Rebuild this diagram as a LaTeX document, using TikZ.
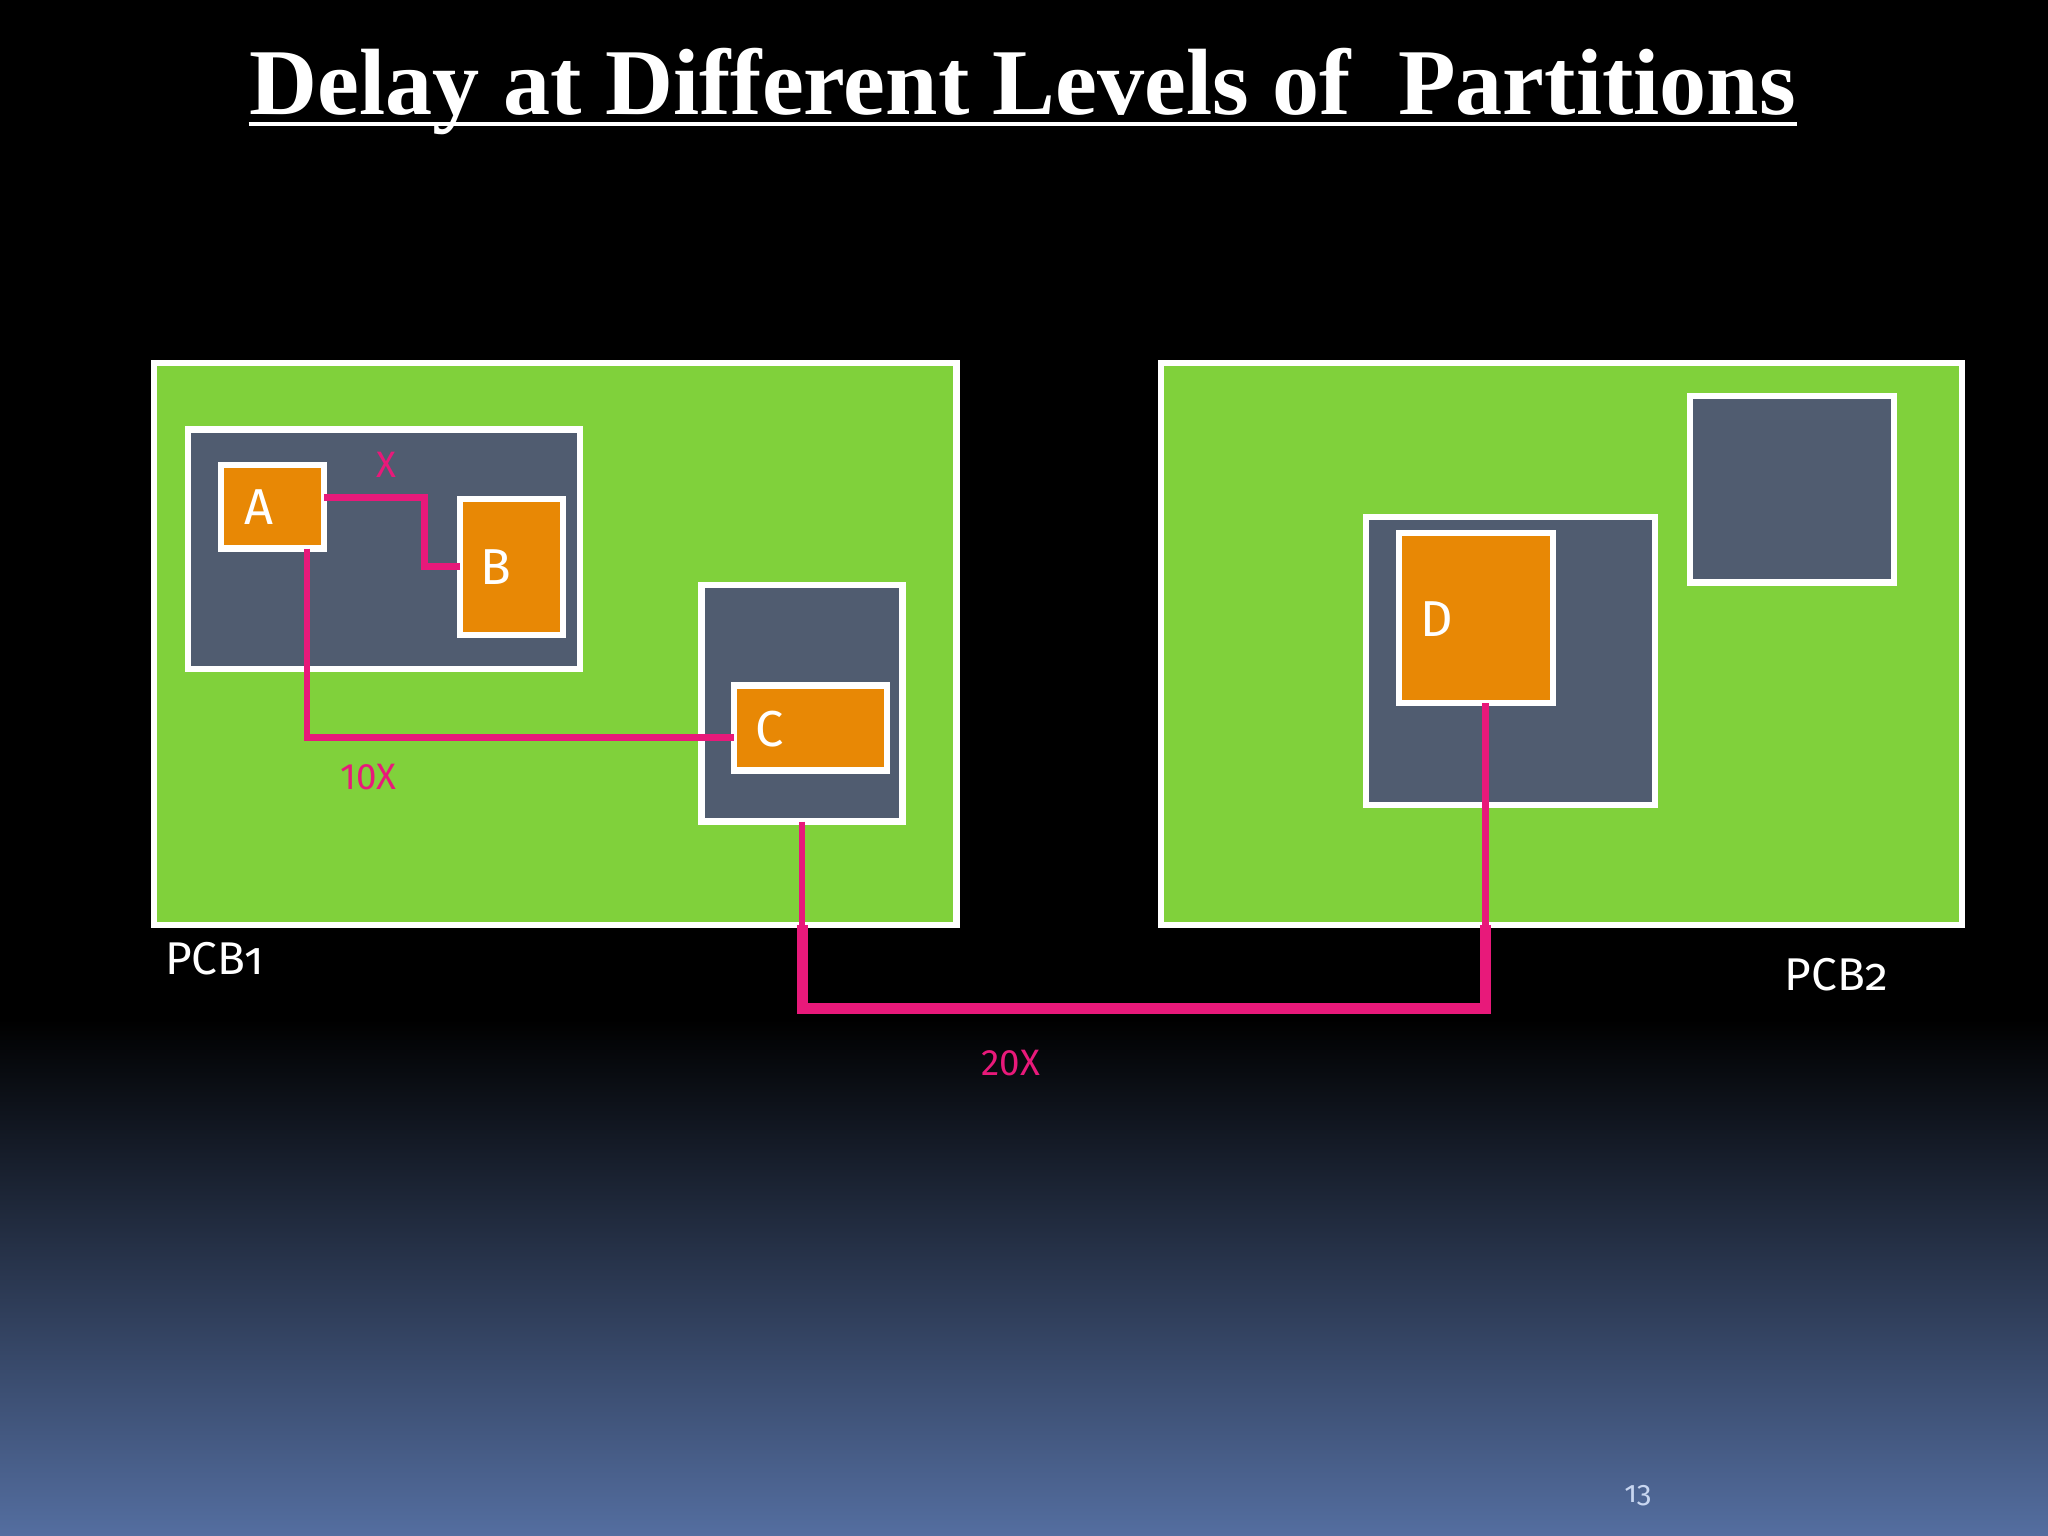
\documentclass[tikz,border=0pt]{standalone}
\usepackage{fontspec}
\setmainfont{Liberation Serif}
\newfontfamily\labelfont{Fira Sans}
\newfontfamily\oldnumfont[Numbers=OldStyle]{Fira Sans}
\usepackage{xcolor}
\usetikzlibrary{calc}

\definecolor{boardgreen}{HTML}{80D13B}
\definecolor{blockgray}{HTML}{505C70}
\definecolor{chiporange}{HTML}{E88805}
\definecolor{wirepink}{HTML}{E8197A}
\definecolor{slidebottom}{HTML}{546EA0}
\definecolor{pagenum}{HTML}{C8D6F0}

\begin{document}
\begin{tikzpicture}[x=0.01cm, y=-0.01cm,
  board/.style={draw=white, line width=1.4pt, fill=boardgreen, anchor=north west, inner sep=0pt, outer sep=0pt},
  block/.style={draw=white, line width=1.4pt, fill=blockgray, anchor=north west, inner sep=0pt, outer sep=0pt},
  chip/.style={draw=white, line width=1.4pt, fill=chiporange, anchor=north west, inner sep=0pt, outer sep=0pt},
  chiplbl/.style={text=white, font=\labelfont\fontsize{11}{13}\selectfont},
  pcblbl/.style={text=white, font=\oldnumfont\fontsize{10}{12}\selectfont},
  wire/.style={draw=wirepink, line width=1.5pt},
  bus/.style={draw=wirepink, line width=2.4pt},
  wirelbl/.style={text=wirepink, font=\labelfont\fontsize{8}{10}\selectfont}]

% slide background
\fill[black] (0,0) rectangle (1568,1176);
\shade[top color=black, bottom color=slidebottom] (0,780) rectangle (1568,1176);
\useasboundingbox (0,0) rectangle (1568,1176);

% title
\node[anchor=base, inner sep=0pt, text=white, font=\bfseries\fontsize{20.5}{24}\selectfont] (title) at (783,88) {Delay at Different Levels of\ \ Partitions};
\draw[white, line width=1pt] ([yshift=-.07cm]title.base west) -- ([yshift=-.07cm]title.base east);

% boards
\node[board, minimum width=6.14cm, minimum height=4.30cm] (pcb1) at (118,278) {};
\node[board, minimum width=6.13cm, minimum height=4.30cm] (pcb2) at (889,278) {};

% blocks
\node[block, minimum width=3.00cm, minimum height=1.83cm] (grp1) at (144,329) {};
\node[block, minimum width=1.54cm, minimum height=1.81cm] (grpC) at (537,448) {};
\node[block, minimum width=1.56cm, minimum height=1.43cm] (grpE) at (1294,303) {};
\node[block, minimum width=2.21cm, minimum height=2.20cm] (grpD) at (1046,396) {};

% chips
\node[chip, minimum width=0.79cm, minimum height=0.64cm] (A) at (169,356) {};
\node[chip, minimum width=0.79cm, minimum height=1.04cm] (B) at (352,382) {};
\node[chip, minimum width=1.17cm, minimum height=0.65cm] (C) at (562,525) {};
\node[chip, minimum width=1.18cm, minimum height=1.30cm] (D) at (1071,408) {};

\node[chiplbl] (Alab) at (198,388) {A};
\node[chiplbl] (Blab) at (380,434) {B};
\node[chiplbl] (Clab) at (589,558) {C};
\node[chiplbl] (Dlab) at (1100,474) {D};

% wires
\draw[wire] ([yshift=.07cm]A.east) -- ++(77,0) |- (B.west);
\draw[wire] ([xshift=.265cm]A.south) |- ([yshift=-.07cm]C.west);
\coordinate (Dpin) at ([xshift=.07cm]D.south);
\draw[wire] (grpC.south) -- (grpC.south |- pcb1.south);
\draw[bus] (grpC.south |- pcb1.south) -- ++(0,64) -| (Dpin |- pcb2.south);
\draw[wire] (Dpin |- pcb2.south) -- (Dpin);

% labels
\node[wirelbl] (xlab) at (296,356) {X};
\node[wirelbl] (tenx) at (282,595) {10X};
\node[wirelbl] (twentyx) at (774,814) {20X};
\node[pcblbl] (pcb1lab) at (164,734) {PCB1};
\node[pcblbl] (pcb2lab) at (1406,746) {PCB2};
\node[text=pagenum, font=\oldnumfont\fontsize{6.5}{8}\selectfont] (page) at (1254,1145) {13};
\end{tikzpicture}
\end{document}
